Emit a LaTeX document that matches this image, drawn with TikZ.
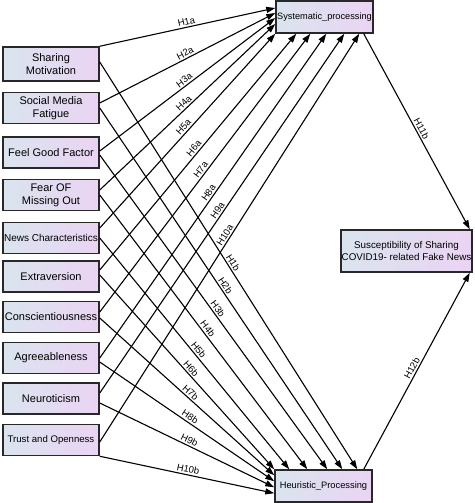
\documentclass[tikz,border=0pt]{standalone}
\usepackage{fontspec}
\setmainfont{Liberation Sans}
\usetikzlibrary{arrows.meta}
\definecolor{boxl}{RGB}{218,228,238}
\definecolor{boxr}{RGB}{234,212,243}
\definecolor{boxline}{RGB}{40,40,40}
\begin{document}
\begin{tikzpicture}[x=1pt,y=1pt,
  box/.style={draw=boxline, line width=1.5pt, left color=boxl, right color=boxr, align=center, inner sep=0.5pt},
  lbox/.style={box, minimum width=96pt, minimum height=31pt, font=\fontsize{11}{13}\selectfont},
  arr/.style={-{Triangle[length=9pt,width=6pt]}, line width=1.1pt, draw=black},
  lab/.style={font=\fontsize{9.5}{10}\selectfont, sloped, above, midway, inner sep=1.5pt}]
\useasboundingbox (0,0) rectangle (474,-503);
% left boxes
\node[lbox, minimum height=34pt] (b1) at (51,-64) {Sharing\\Motivation};
\node[lbox] (b2) at (51,-108) {Social Media\\Fatigue};
\node[lbox] (b3) at (51,-152.5) {Feel Good Factor};
\node[lbox] (b4) at (51,-195) {Fear OF\\Missing Out};
\node[lbox, font=\fontsize{10}{12}\selectfont] (b5) at (51,-238) {News Characteristics};
\node[lbox] (b6) at (51,-276.5) {Extraversion};
\node[lbox] (b7) at (51,-317) {Conscientiousness};
\node[lbox] (b8) at (51,-358) {Agreeableness};
\node[lbox] (b9) at (51,-398.5) {Neuroticism};
\node[lbox, font=\fontsize{9.6}{12}\selectfont] (b10) at (51,-440) {Trust and Openness};
% mediators and outcome
\node[box, minimum width=97pt, minimum height=32pt, font=\fontsize{9.2}{11}\selectfont] (sys) at (324.5,-17) {Systematic\_processing};
\node[box, minimum width=97pt, minimum height=32pt, font=\fontsize{9.3}{11}\selectfont] (heu) at (323.5,-486) {Heuristic\_Processing};
\node[box, minimum width=131pt, minimum height=42pt, font=\fontsize{9.8}{12}\selectfont] (sus) at (406.5,-251) {Susceptibility of Sharing\\COVID19- related Fake News};
% a paths
\draw[arr] (b1.north east) -- node[lab]{H1a} ([yshift=9pt]sys.west);
\draw[arr] ([yshift=5pt]b2.east) -- node[lab]{H2a} ([yshift=4pt]sys.west);
\draw[arr] ([yshift=1.5pt]b3.east) -- node[lab]{H3a} ([yshift=-1pt]sys.west);
\draw[arr] ([yshift=5pt]b4.east) -- node[lab]{H4a} ([yshift=-7pt]sys.west);
\draw[arr] ([yshift=10pt]b5.east) -- node[lab]{H5a} (sys.south west);
\draw[arr] ([yshift=6.5pt]b6.east) -- node[lab]{H6a} ([xshift=21pt]sys.south west);
\draw[arr] ([yshift=5pt]b7.east) -- node[lab]{H7a} ([xshift=35pt]sys.south west);
\draw[arr] (b8.east) -- node[lab]{H8a} ([xshift=51pt]sys.south west);
\draw[arr] ([yshift=5.5pt]b9.east) -- node[lab]{H9a} ([xshift=69pt]sys.south west);
\draw[arr] ([yshift=-2pt]b10.east) -- node[lab]{H10a} ([xshift=84pt]sys.south west);
% b paths
\draw[arr] ([yshift=2pt]b1.east) -- node[lab]{H1b} ([xshift=83pt]heu.north west);
\draw[arr] (b2.east) -- node[lab]{H2b} ([xshift=68pt]heu.north west);
\draw[arr] ([yshift=-2.5pt]b3.east) -- node[lab]{H3b} ([xshift=53pt]heu.north west);
\draw[arr] (b4.east) -- node[lab]{H4b} ([xshift=33pt]heu.north west);
\draw[arr] (b5.east) -- node[lab]{H5b} ([xshift=15pt]heu.north west);
\draw[arr] ([yshift=1.5pt]b6.east) -- node[lab]{H6b} (heu.north west);
\draw[arr] ([yshift=-1pt]b7.east) -- node[lab]{H7b} ([yshift=-6pt]heu.north west);
\draw[arr] ([yshift=-4pt]b8.east) -- node[lab]{H8b} ([yshift=-12pt]heu.north west);
\draw[arr] ([yshift=-4.5pt]b9.east) -- node[lab]{H9b} ([yshift=-18pt]heu.north west);
\draw[arr] (b10.south east) -- node[lab]{H10b} ([yshift=-24pt]heu.north west);
% to outcome
\draw[arr] ([xshift=-10pt]sys.south east) -- node[lab]{H11b} ([xshift=-3pt]sus.north east);
\draw[arr] ([xshift=-9pt]heu.north east) -- node[lab]{H12b} ([xshift=-3pt]sus.south east);
\end{tikzpicture}
\end{document}
